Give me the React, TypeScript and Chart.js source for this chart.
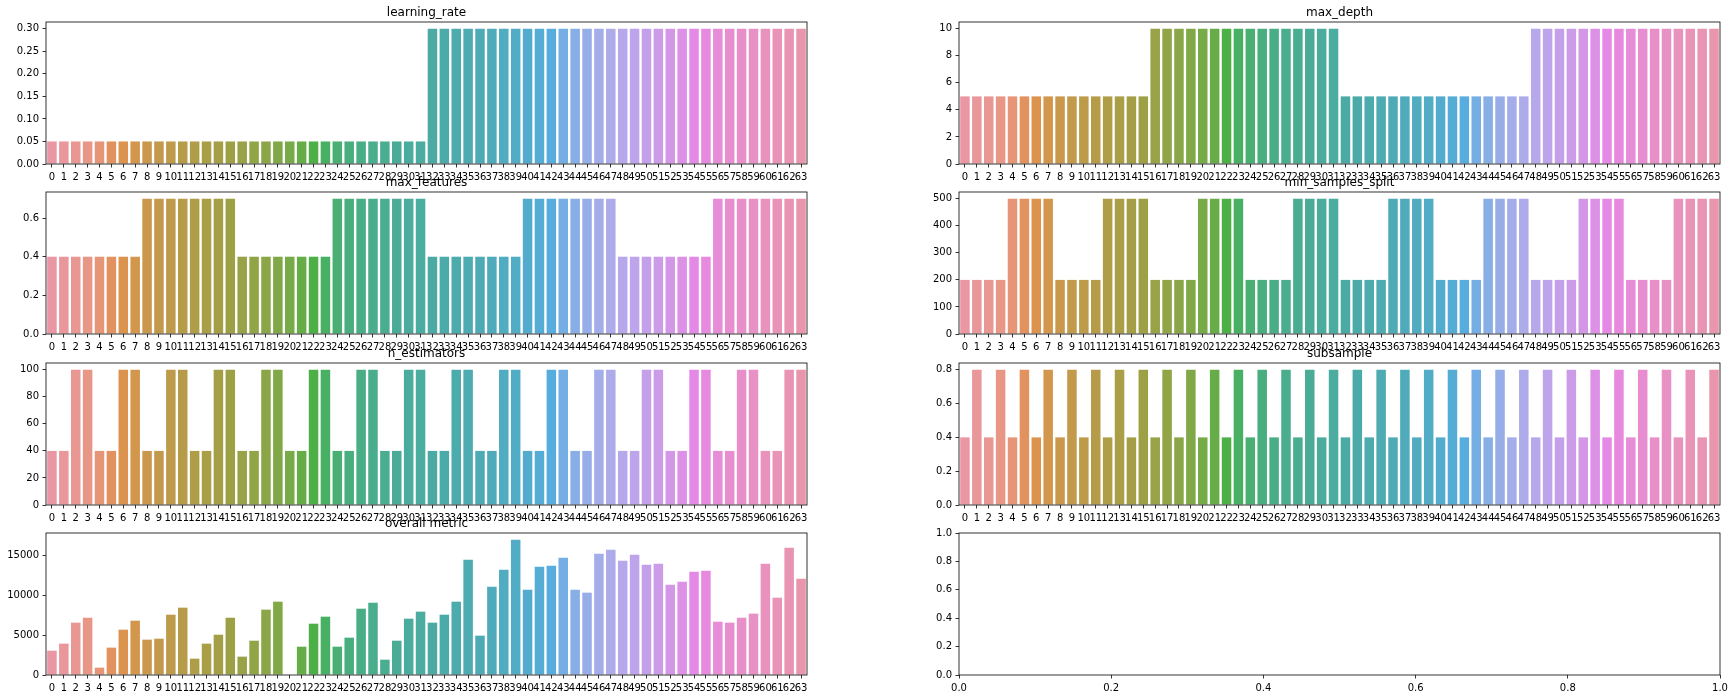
import { useEffect, useRef } from 'react';
import { Chart } from 'chart.js/auto';

// --- data ---
const RUNS = Array.from({ length: 64 }, (_, i) => String(i));

const learningRate = [
  0.05, 0.05, 0.05, 0.05, 0.05, 0.05, 0.05, 0.05, 0.05, 0.05, 0.05, 0.05, 0.05, 0.05, 0.05, 0.05,
  0.05, 0.05, 0.05, 0.05, 0.05, 0.05, 0.05, 0.05, 0.05, 0.05, 0.05, 0.05, 0.05, 0.05, 0.05, 0.05,
  0.3, 0.3, 0.3, 0.3, 0.3, 0.3, 0.3, 0.3, 0.3, 0.3, 0.3, 0.3, 0.3, 0.3, 0.3, 0.3,
  0.3, 0.3, 0.3, 0.3, 0.3, 0.3, 0.3, 0.3, 0.3, 0.3, 0.3, 0.3, 0.3, 0.3, 0.3, 0.3,
];
const maxDepth = [
  5, 5, 5, 5, 5, 5, 5, 5, 5, 5, 5, 5, 5, 5, 5, 5,
  10, 10, 10, 10, 10, 10, 10, 10, 10, 10, 10, 10, 10, 10, 10, 10,
  5, 5, 5, 5, 5, 5, 5, 5, 5, 5, 5, 5, 5, 5, 5, 5,
  10, 10, 10, 10, 10, 10, 10, 10, 10, 10, 10, 10, 10, 10, 10, 10,
];
const maxFeatures = [
  0.4, 0.4, 0.4, 0.4, 0.4, 0.4, 0.4, 0.4, 0.7, 0.7, 0.7, 0.7, 0.7, 0.7, 0.7, 0.7,
  0.4, 0.4, 0.4, 0.4, 0.4, 0.4, 0.4, 0.4, 0.7, 0.7, 0.7, 0.7, 0.7, 0.7, 0.7, 0.7,
  0.4, 0.4, 0.4, 0.4, 0.4, 0.4, 0.4, 0.4, 0.7, 0.7, 0.7, 0.7, 0.7, 0.7, 0.7, 0.7,
  0.4, 0.4, 0.4, 0.4, 0.4, 0.4, 0.4, 0.4, 0.7, 0.7, 0.7, 0.7, 0.7, 0.7, 0.7, 0.7,
];
const minSamplesSplit = [
  200, 200, 200, 200, 500, 500, 500, 500, 200, 200, 200, 200, 500, 500, 500, 500,
  200, 200, 200, 200, 500, 500, 500, 500, 200, 200, 200, 200, 500, 500, 500, 500,
  200, 200, 200, 200, 500, 500, 500, 500, 200, 200, 200, 200, 500, 500, 500, 500,
  200, 200, 200, 200, 500, 500, 500, 500, 200, 200, 200, 200, 500, 500, 500, 500,
];
const nEstimators = [
  40, 40, 100, 100, 40, 40, 100, 100, 40, 40, 100, 100, 40, 40, 100, 100,
  40, 40, 100, 100, 40, 40, 100, 100, 40, 40, 100, 100, 40, 40, 100, 100,
  40, 40, 100, 100, 40, 40, 100, 100, 40, 40, 100, 100, 40, 40, 100, 100,
  40, 40, 100, 100, 40, 40, 100, 100, 40, 40, 100, 100, 40, 40, 100, 100,
];
const subsample = [
  0.4, 0.8, 0.4, 0.8, 0.4, 0.8, 0.4, 0.8, 0.4, 0.8, 0.4, 0.8, 0.4, 0.8, 0.4, 0.8,
  0.4, 0.8, 0.4, 0.8, 0.4, 0.8, 0.4, 0.8, 0.4, 0.8, 0.4, 0.8, 0.4, 0.8, 0.4, 0.8,
  0.4, 0.8, 0.4, 0.8, 0.4, 0.8, 0.4, 0.8, 0.4, 0.8, 0.4, 0.8, 0.4, 0.8, 0.4, 0.8,
  0.4, 0.8, 0.4, 0.8, 0.4, 0.8, 0.4, 0.8, 0.4, 0.8, 0.4, 0.8, 0.4, 0.8, 0.4, 0.8,
];
const overallMetric = [
  3050, 3930, 6560, 7180, 920, 3430, 5680, 6810, 4430, 4550,
  7560, 8440, 2050, 3930, 5050, 7180, 2300, 4300, 8190, 9190,
  0, 3550, 6430, 7310, 3550, 4680, 8310, 9060, 1920, 4300,
  7060, 7940, 6560, 7560, 9190, 14450, 4930, 11070, 13200, 16950,
  10690, 13580, 13700, 14700, 10690, 10320, 15200, 15710, 14330, 15080,
  13830, 13950, 11320, 11700, 12950, 13070, 6680, 6560, 7180, 7690,
  13950, 9690, 15960, 12070,
];

const lrTicks = [0, 0.05, 0.1, 0.15, 0.2, 0.25, 0.3];
const depthTicks = [0, 2, 4, 6, 8, 10];
const featTicks = [0, 0.2, 0.4, 0.6];
const splitTicks = [0, 100, 200, 300, 400, 500];
const estTicks = [0, 20, 40, 60, 80, 100];
const subTicks = [0, 0.2, 0.4, 0.6, 0.8];
const metricTicks = [0, 5000, 10000, 15000];
const unitTicks = [0, 0.2, 0.4, 0.6, 0.8, 1.0];

// --- seaborn husl palette (l=.7), desaturated to .75 like barplot does ---
const M = [
  [3.2406, -1.5372, -0.4986],
  [-0.9689, 1.8758, 0.0415],
  [0.0557, -0.204, 1.057],
];

function maxChroma(L: number, H: number) {
  const hr = (H * Math.PI) / 180;
  const sinH = Math.sin(hr);
  const cosH = Math.cos(hr);
  const sub1 = Math.pow(L + 16, 3) / 1560896;
  const sub2 = sub1 > 0.008856 ? sub1 : L / 903.3;
  let result = Infinity;
  for (const [m1, m2, m3] of M) {
    const top = (0.99915 * m1 + 1.05122 * m2 + 1.1446 * m3) * sub2;
    const rbottom = 0.8633 * m3 - 0.17266 * m2;
    const lbottom = 0.12949 * m3 - 0.38848 * m1;
    const bottom = (rbottom * sinH + lbottom * cosH) * sub2;
    for (const t of [0, 1]) {
      const C = (L * (top - 1.05122 * t)) / (bottom + 0.17266 * sinH * t);
      if (C > 0 && C < result) result = C;
    }
  }
  return result;
}

function fromLinear(c: number) {
  return c <= 0.0031308 ? 12.92 * c : 1.055 * Math.pow(c, 1 / 2.4) - 0.055;
}

function huslToRgb(H: number, S: number, L: number) {
  const C = (maxChroma(L, H) / 100) * S;
  const hr = (H * Math.PI) / 180;
  const U = Math.cos(hr) * C;
  const V = Math.sin(hr) * C;
  const t = (L + 16) / 116;
  const Y = Math.pow(t, 3) > 0.008856 ? Math.pow(t, 3) : L / 903.3;
  const varU = U / (13 * L) + 0.19784;
  const varV = V / (13 * L) + 0.46834;
  const X = -(9 * Y * varU) / ((varU - 4) * varV - varU * varV);
  const Z = (9 * Y - 15 * varV * Y - varV * X) / (3 * varV);
  return M.map((r) => Math.min(1, Math.max(0, fromLinear(r[0] * X + r[1] * Y + r[2] * Z))));
}

function barPalette(n: number) {
  const out: string[] = [];
  for (let i = 0; i < n; i++) {
    const h = ((i / n + 0.01) % 1) * 359;
    const rgb = huslToRgb(h, 0.9 * 99, 0.7 * 99);
    const l = (Math.max(...rgb) + Math.min(...rgb)) / 2;
    const [r, g, b] = rgb.map((c) => Math.round((l + 0.75 * (c - l)) * 255));
    out.push(`rgb(${r},${g},${b})`);
  }
  return out;
}

const BAR_COLORS = barPalette(RUNS.length);

// --- layout (px) ---
const COL_LEFT = [46, 959];
const ROW_TOP = [22, 192, 363, 533];
const AX_W = 761;
const AX_H = 142;
const YW = 46;
const TT = 22;
const XH = 24;
const RP = 14;

const FONT = { family: 'DejaVu Sans', size: 10 };
const INK = '#000';

const framePlugin = {
  id: 'frame',
  afterDraw(chart: any, _args: any, opts: any) {
    const { ctx, chartArea } = chart;
    const { left, top, right, bottom } = chartArea;
    ctx.save();
    ctx.strokeStyle = INK;
    ctx.lineWidth = 0.8;
    ctx.strokeRect(left, top, right - left, bottom - top);
    if (opts && opts.text) {
      ctx.font = '12px "DejaVu Sans"';
      ctx.fillStyle = INK;
      ctx.textAlign = 'center';
      ctx.textBaseline = 'alphabetic';
      ctx.fillText(opts.text, (left + right) / 2, top - 6);
    }
    ctx.restore();
  },
};

const tickGrid = {
  display: true,
  drawOnChartArea: false,
  drawTicks: true,
  tickLength: 3.5,
  tickWidth: 0.8,
  tickColor: INK,
  offset: false,
};

type PanelProps = {
  title?: string;
  values?: number[];
  yTicks: number[];
  yMax: number;
  decimals: number;
  col: number;
  row: number;
};

const Panel = ({ title, values, yTicks, yMax, decimals, col, row }: PanelProps) => {
  const ref = useRef<HTMLCanvasElement>(null);
  const width = YW + AX_W + RP;
  const height = TT + AX_H + XH;

  useEffect(() => {
    if (!ref.current) return;
    const yAxis = {
      type: 'linear',
      min: 0,
      max: yMax,
      grid: tickGrid,
      border: { display: false },
      ticks: {
        color: INK,
        font: FONT,
        padding: 3.5,
        callback: (v: any) => Number(v).toFixed(decimals),
      },
      afterBuildTicks: (s: any) => {
        s.ticks = yTicks.map((v) => ({ value: v }));
      },
      afterFit: (s: any) => {
        s.width = YW;
      },
    };
    const xCommon = {
      grid: tickGrid,
      border: { display: false },
      afterFit: (s: any) => {
        s.height = XH;
      },
    };
    const common = {
      animation: false,
      responsive: false,
      maintainAspectRatio: false,
      layout: { padding: { left: 0, top: TT, right: RP, bottom: 0 } },
      plugins: {
        legend: { display: false },
        tooltip: { enabled: false },
        title: { display: false },
        frame: { text: title },
      },
    };

    const chart = values
      ? new Chart(ref.current, {
          type: 'bar',
          data: {
            labels: RUNS,
            datasets: [
              {
                data: values,
                backgroundColor: BAR_COLORS,
                borderWidth: 0,
                barPercentage: 0.8,
                categoryPercentage: 1.0,
              },
            ],
          },
          options: {
            ...common,
            scales: {
              x: {
                ...xCommon,
                type: 'category',
                offset: true,
                ticks: { color: INK, font: FONT, padding: 3.5, autoSkip: false, maxRotation: 0, minRotation: 0 },
              },
              y: yAxis,
            },
          } as any,
          plugins: [framePlugin],
        })
      : new Chart(ref.current, {
          type: 'scatter',
          data: { datasets: [{ data: [] }] },
          options: {
            ...common,
            scales: {
              x: {
                ...xCommon,
                type: 'linear',
                min: 0,
                max: 1,
                ticks: {
                  color: INK,
                  font: FONT,
                  padding: 3.5,
                  maxRotation: 0,
                  callback: (v: any) => Number(v).toFixed(1),
                },
                afterBuildTicks: (s: any) => {
                  s.ticks = unitTicks.map((v) => ({ value: v }));
                },
              },
              y: yAxis,
            },
          } as any,
          plugins: [framePlugin],
        });

    return () => chart.destroy();
  }, [title, values, yTicks, yMax, decimals]);

  return (
    <canvas
      ref={ref}
      width={width}
      height={height}
      style={{
        position: 'absolute',
        left: COL_LEFT[col] - YW,
        top: ROW_TOP[row] - TT,
        width,
        height,
      }}
    />
  );
};

export default function App() {
  return (
    <div style={{ position: 'absolute', left: 0, top: 0, width: 1734, height: 699, background: '#fff' }}>
      <Panel title="learning_rate" values={learningRate} yTicks={lrTicks} yMax={0.3 * 1.05} decimals={2} col={0} row={0} />
      <Panel title="max_depth" values={maxDepth} yTicks={depthTicks} yMax={10 * 1.05} decimals={0} col={1} row={0} />
      <Panel title="max_features" values={maxFeatures} yTicks={featTicks} yMax={0.7 * 1.05} decimals={1} col={0} row={1} />
      <Panel title="min_samples_split" values={minSamplesSplit} yTicks={splitTicks} yMax={500 * 1.05} decimals={0} col={1} row={1} />
      <Panel title="n_estimators" values={nEstimators} yTicks={estTicks} yMax={100 * 1.05} decimals={0} col={0} row={2} />
      <Panel title="subsample" values={subsample} yTicks={subTicks} yMax={0.8 * 1.05} decimals={1} col={1} row={2} />
      <Panel title="overall metric" values={overallMetric} yTicks={metricTicks} yMax={16950 * 1.05} decimals={0} col={0} row={3} />
      <Panel yTicks={unitTicks} yMax={1} decimals={1} col={1} row={3} />
    </div>
  );
}
